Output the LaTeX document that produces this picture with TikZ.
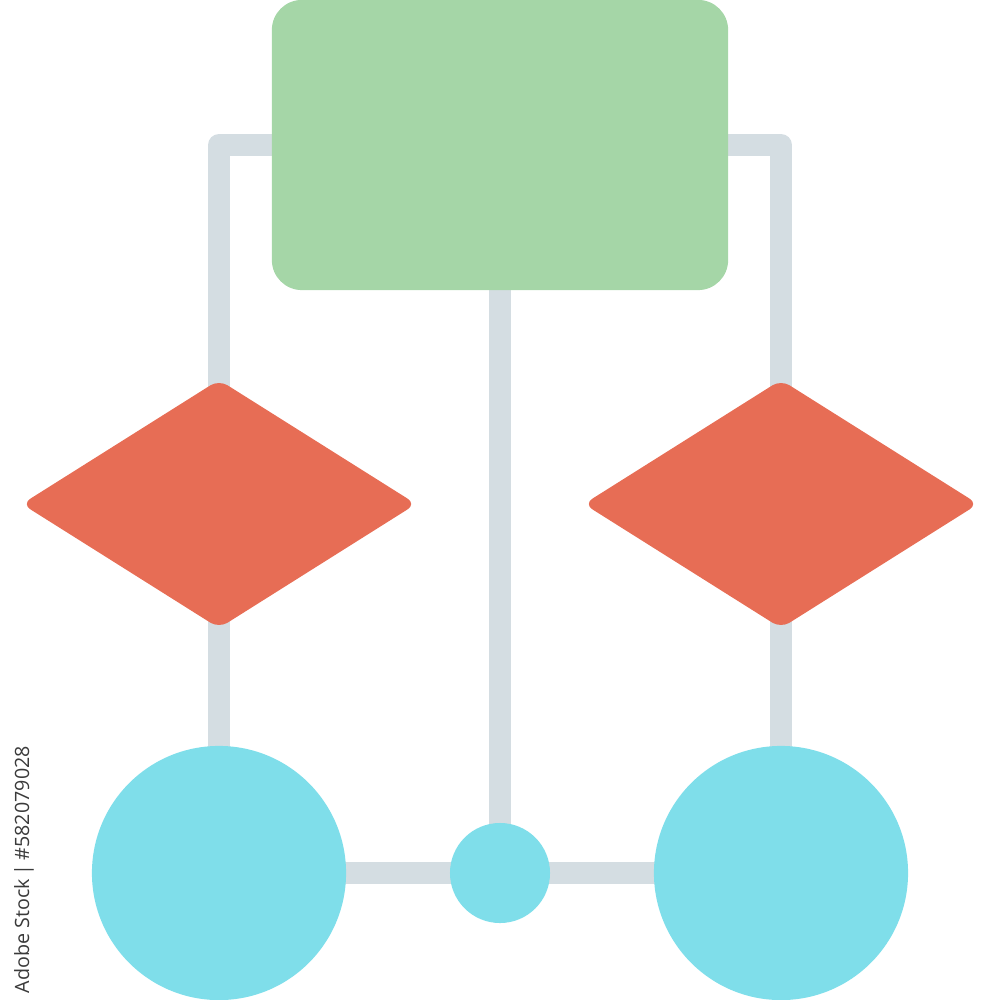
\documentclass[tikz,border=0pt]{standalone}
\usepackage{fontspec}
\setsansfont{Open Sans}
\usetikzlibrary{shapes.geometric,backgrounds}
\definecolor{boxgreen}{HTML}{A5D6A7}
\definecolor{diaorange}{HTML}{E76D55}
\definecolor{dotcyan}{HTML}{7FDEEA}
\definecolor{linkgrey}{HTML}{D4DDE2}
\definecolor{stampgrey}{HTML}{3A3A3A}
\begin{document}
\begin{tikzpicture}[x=0.01cm,y=-0.01cm]
\tikzstyle{every node}+=[inner sep=0pt,outer sep=0pt]
\tikzstyle{box}=[rectangle,fill=boxgreen,rounded corners=0.3cm,minimum width=4.56cm,minimum height=2.9cm]
\tikzstyle{decision}=[diamond,fill=diaorange,rounded corners=0.1cm,minimum width=3.94cm,minimum height=2.48cm]
\tikzstyle{bigdot}=[circle,fill=dotcyan,minimum size=2.54cm]
\tikzstyle{smalldot}=[circle,fill=dotcyan,minimum size=1cm]
\tikzstyle{link}=[draw=linkgrey,line width=0.22cm,line join=round,shorten <=-0.1cm,shorten >=-0.1cm]
\useasboundingbox (0,0) rectangle (1000,1000);
\node [box] (top) at (500,145) {};
\node [decision] (ldec) at (219,504) {};
\node [decision] (rdec) at (781,504) {};
\node [bigdot] (lbig) at (219,873) {};
\node [bigdot] (rbig) at (781,873) {};
\node [smalldot] (mid) at (500,873) {};
\begin{scope}[on background layer]
\draw [link] (top.west) -| (ldec.north);
\draw [link] (top.east) -| (rdec.north);
\draw [link] (top.south) -- (mid.north);
\draw [link] (ldec.south) -- (lbig.north);
\draw [link] (rdec.south) -- (rbig.north);
\draw [link] (lbig.east) -- (mid.west);
\draw [link] (mid.east) -- (rbig.west);
\end{scope}
\node [rotate=90,anchor=west,text=stampgrey,font=\sffamily\fontsize{5.6}{6}\selectfont] (stamp) at (24,993) {Adobe Stock\hspace{0.2em}|\hspace{0.2em}\#582079028};
\end{tikzpicture}
\end{document}
